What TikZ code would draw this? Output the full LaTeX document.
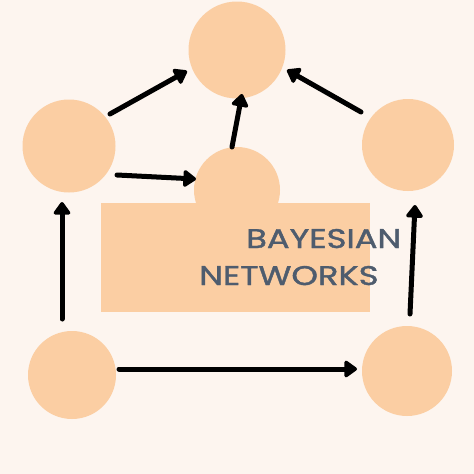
\documentclass[tikz,border=0pt]{standalone}
\usepackage{fontspec}
\setmainfont{Poppins}
\newfontfamily\labelfont[FakeBold=1.3]{Poppins}
\usetikzlibrary{arrows.meta}
\definecolor{bg}{HTML}{FDF5EF}
\definecolor{peach}{HTML}{FBCEA3}
\definecolor{ink}{HTML}{4E5C6E}
\tikzset{
  dot/.style={circle, fill=peach, inner sep=0pt, minimum size=#1},
  link/.style={line width=5pt, line cap=round, -{Triangle[length=14pt,width=19pt,round]}},
  label/.style={text=ink, font=\labelfont\fontsize{27}{30}\selectfont, inner sep=0pt, anchor=base west}
}
\begin{document}
\begin{tikzpicture}[x=1pt,y=-1pt]
\fill[bg] (0,0) rectangle (474,474);
\useasboundingbox (0,0) rectangle (474,474);
\fill[peach] (101,203) rectangle (370,312);
\node[dot=97pt] (top) at (237,50) {};
\node[dot=93pt] (lm) at (69,146) {};
\node[dot=92pt] (rm) at (408,145) {};
\node[dot=86pt] (mid) at (237,190) {};
\node[dot=88pt] (bl) at (72,375) {};
\node[dot=90pt] (br) at (407,371) {};
\node[label] (t1) at (246,248) {\scalebox{1.25}[1]{BAYESIAN}};
\node[label] (t2) at (199,285) {\scalebox{1.25}[1]{NETWORKS}};
\coordinate (a1s) at (110,114); \coordinate (a1e) at (187,71);
\coordinate (a2s) at (232,147); \coordinate (a2e) at (242,94);
\coordinate (a3s) at (361,112); \coordinate (a3e) at (287,70);
\coordinate (a4s) at (117,175); \coordinate (a4e) at (196,179);
\coordinate (a5s) at (62,319); \coordinate (a5e) at (62,202);
\coordinate (a6s) at (410,314); \coordinate (a6e) at (415,205);
\coordinate (a7s) at (119,369); \coordinate (a7e) at (357,369);
\draw[link] (a1s) -- (a1e);
\draw[link] (a2s) -- (a2e);
\draw[link] (a3s) -- (a3e);
\draw[link] (a4s) -- (a4e);
\draw[link] (a5s) -- (a5e);
\draw[link] (a6s) -- (a6e);
\draw[link] (a7s) -- (a7e);
\end{tikzpicture}
\end{document}
